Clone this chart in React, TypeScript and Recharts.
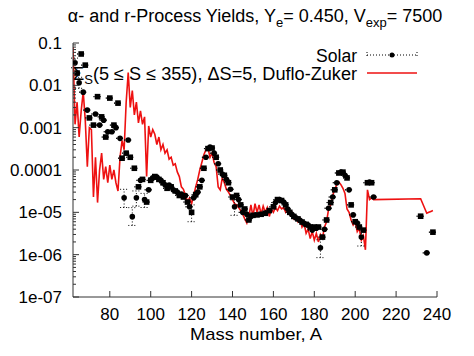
import React from 'react';
import { ComposedChart, Line, Scatter, XAxis, YAxis, ErrorBar } from 'recharts';

const xTicks = [80, 100, 120, 140, 160, 180, 200, 220, 240];
const yMajorTicks = [0.1, 0.01, 0.001, 0.0001, 1e-5, 1e-6, 1e-7];
const yTickLabels = ['0.1', '0.01', '0.001', '0.0001', '1e-05', '1e-06', '1e-07'];
const yMinorTicks: number[] = [];
for (let e = -7; e < -1; e++) for (let k = 2; k <= 9; k++) yMinorTicks.push(k * Math.pow(10, e));
const yAllTicks = [...yMajorTicks, ...yMinorTicks];

// Duflo-Zuker summed yields (red line)
const dzMass = [
  62, 63, 64, 65, 66, 67, 68, 69, 70, 71, 72, 73, 74, 75, 76, 77, 78, 79, 80, 81,
  82, 83, 84, 85, 86, 87, 88, 89, 90, 91, 92, 93, 94, 95, 96, 97, 98, 99, 100, 101,
  102, 103, 104, 105, 106, 107, 108, 109, 110, 111, 112, 113, 114, 115, 116, 117, 118, 119, 120, 121,
  122, 123, 124, 125, 126, 127, 128, 129, 130, 131, 132, 133, 134, 135, 136, 137, 138, 139, 140, 141,
  142, 143, 144, 145, 146, 147, 148, 149, 150, 151, 152, 153, 154, 155, 156, 157, 158, 159, 160, 161,
  162, 163, 164, 165, 166, 167, 168, 169, 170, 171, 172, 173, 174, 175, 176, 177, 178, 179, 180, 181,
  182, 183, 184, 185, 186, 187, 188, 189, 190, 191, 192, 193, 194, 195, 196, 197, 198, 199, 200, 201,
  202, 203, 204, 205, 206, 207, 208, 209, 232, 235, 236, 237, 238,
];
const dzYield = [
  0.08, 0.0012, 0.004, 0.0006, 0.0025, 0.007, 0.0015, 0.00012, 0.001, 0.0009, 2.3e-5, 0.0002, 1.7e-5, 0.0001, 0.00025, 6e-5, 0.00012, 5e-5, 0.00013, 6e-5,
  0.0001, 5e-5, 3.2e-5, 0.0002, 0.0005, 0.0003, 0.004, 0.02, 0.003, 0.0075, 0.002, 0.004, 0.0013, 0.0025, 0.0012, 0.0018, 7e-5, 0.0011, 0.0006, 0.0009,
  0.0007, 0.0004, 0.0006, 0.0003, 0.0004, 0.00025, 0.0003, 0.00018, 0.0002, 0.00013, 0.00014, 9e-5, 7e-5, 4e-5, 3.5e-5, 2.5e-5, 1.8e-5, 2.2e-5, 1.6e-5, 2.5e-5,
  4e-5, 6e-5, 1e-4, 1.5e-4, 2.3e-4, 3e-4, 3.3e-4, 2e-4, 2.5e-4, 1.5e-4, 1.2e-4, 4e-5, 3.4e-5, 6.5e-5, 5e-5, 3.5e-5, 3e-5, 2.5e-5, 2e-5, 1.6e-5,
  1.5e-5, 1.3e-5, 1.1e-5, 9e-6, 7e-6, 5.6e-6, 8e-6, 1.5e-5, 8e-6, 1.6e-5, 1e-5, 1.5e-5, 9e-6, 1.4e-5, 1e-5, 1.3e-5, 8e-6, 1.2e-5, 1e-5, 1.3e-5,
  1.1e-5, 1.4e-5, 1.2e-5, 1.3e-5, 1e-5, 1.2e-5, 9e-6, 1e-5, 7e-6, 8e-6, 6e-6, 7e-6, 4.5e-6, 5.5e-6, 3.2e-6, 4e-6, 2.4e-6, 3.5e-6, 2.2e-6, 3.2e-6,
  2e-6, 3e-6, 2.5e-6, 4.5e-6, 6e-6, 1.2e-5, 1.5e-5, 2.5e-5, 3.5e-5, 4.5e-5, 5.2e-5, 4.5e-5, 3.7e-5, 2.8e-5, 1.2e-5, 1e-5, 6.6e-6, 5e-6, 6e-6, 3.5e-6,
  4.2e-6, 2.2e-6, 2.8e-6, 1.3e-6, 3.4e-5, 2e-5, 2.2e-5, 2e-5, 2.1e-5, 9.5e-6, 1e-5, 1.05e-5, 1.1e-5,
];

// Solar r-process abundances (black points)
const solarMass = [
  63, 64, 65, 66, 67, 68, 69, 70, 72, 73, 74, 75, 76, 77, 78, 79, 80, 81, 82, 83,
  84, 85, 86, 87, 88, 89, 90, 91, 92, 93, 94, 95, 96, 97, 98, 99, 100, 101, 102, 103,
  104, 105, 106, 107, 108, 109, 110, 111, 112, 113, 114, 115, 116, 117, 118, 119, 120, 121, 122, 123,
  124, 125, 126, 127, 128, 129, 130, 131, 132, 133, 134, 135, 136, 137, 138, 139, 140, 141, 142, 143,
  144, 145, 146, 147, 148, 149, 150, 152, 154, 156, 158, 160, 161, 162, 163, 164, 165, 166, 167, 168,
  169, 170, 171, 172, 173, 174, 175, 176, 177, 178, 179, 180, 181, 182, 183, 184, 185, 186, 187, 188,
  189, 190, 191, 192, 193, 194, 195, 196, 197, 198, 199, 200, 201, 202, 203, 204, 206, 207, 208, 209,
  232, 235, 238,
];
const solarYield = [
  0.034, 0.0195, 0.0115, 0.055, 0.0069, 0.03, 0.0026, 0.0017, 0.00115, 0.0021, 0.0054, 0.00115, 0.0018, 0.0015, 0.0006, 0.0008, 0.005, 0.0008, 0.00115, 0.001,
  0.0038, 0.00056, 0.00019, 2.2e-5, 0.00025, 0.00051, 0.0002, 7.9e-6, 0.00011, 2.2e-5, 4e-5, 5.7e-5, 6e-5, 2e-5, 1.75e-5, 3.4e-5, 5.7e-5, 6.5e-5, 7e-5, 6.8e-5,
  6e-5, 5.7e-5, 5e-5, 4.5e-5, 3.7e-5, 4.4e-5, 4e-5, 3.4e-5, 3.2e-5, 3e-5, 2.5e-5, 2.7e-5, 2.3e-5, 2.5e-5, 1.75e-5, 1.35e-5, 1e-5, 2.2e-5, 2.6e-5, 3e-5,
  4e-5, 5.7e-5, 1.1e-4, 2e-4, 3.2e-4, 3.5e-4, 3.3e-4, 2.5e-4, 2e-4, 1.4e-4, 1e-4, 8e-5, 7.5e-5, 6e-5, 5e-5, 3.5e-5, 2.3e-5, 1.35e-5, 2.5e-5, 2e-5,
  1.5e-5, 1e-5, 1.2e-5, 9e-6, 6.6e-6, 8e-6, 8.5e-6, 8.7e-6, 9e-6, 9.5e-6, 1.1e-5, 1.35e-5, 1.7e-5, 2e-5, 2e-5, 1.9e-5, 1.75e-5, 1.5e-5, 1.2e-5, 1e-5,
  9e-6, 8e-6, 7.4e-6, 7e-6, 6.5e-6, 5.9e-6, 5.5e-6, 5.2e-6, 5e-6, 4.5e-6, 3.8e-6, 4.5e-6, 4.2e-6, 4.5e-6, 1.45e-6, 2.6e-6, 4e-6, 6.6e-6, 1.25e-5, 1.7e-5,
  2.3e-5, 3.4e-5, 5e-5, 8.5e-5, 9e-5, 8.9e-5, 7.5e-5, 6.5e-5, 3.4e-5, 1.5e-5, 8.7e-6, 6e-6, 5.6e-6, 4.5e-6, 2.6e-6, 3.8e-6, 5e-5, 5.2e-5, 5e-5, 2.3e-5,
  8.1e-6, 1.1e-6, 3.4e-6,
];

// Error bars (lower, upper) on selected solar points
const errMass = [63, 65, 87, 91, 93, 97, 120, 141, 183, 203];
const errLow = [0.008, 0.003, 9e-6, 3e-6, 8e-6, 7e-6, 4e-6, 5e-6, 6e-7, 1e-6];
const errHigh = [0.01, 0.004, 1.3e-5, 5e-6, 1e-5, 8e-6, 5e-6, 6e-6, 8e-7, 1.5e-6];

const W = 458;
const H = 340;
const FONT = '"Liberation Sans", Arial, Helvetica, sans-serif';
const FS = 17;
const AXIS = '#333';
const RED = '#ee1111';

// Helvetica-metric width of a numeric label (keeps labels the same width whatever face is used)
const labelWidth = (s: string, fs: number) => {
  let w = 0;
  for (const ch of s) w += ch === '.' ? 278 : ch === '-' ? 333 : 556;
  return (w * fs) / 1000;
};

const isMajor = (v: number) => yMajorTicks.some((m) => Math.abs(Math.log10(v) - Math.log10(m)) < 1e-6);
const labelFor = (v: number) => {
  const i = yMajorTicks.findIndex((m) => Math.abs(Math.log10(v) - Math.log10(m)) < 1e-6);
  return i >= 0 ? yTickLabels[i] : '';
};

const LeftTick = (props: any) => {
  const { x, y, payload, m } = props;
  const ax = x + m;
  const major = isMajor(payload.value);
  const lab = labelFor(payload.value);
  return (
    <g>
      <line x1={ax} y1={y} x2={ax + (major ? 6 : 3)} y2={y} stroke={AXIS} strokeWidth={1} />
      {major && (
        <text
          x={x}
          y={y + 6}
          textAnchor="end"
          fontSize={FS}
          fontFamily={FONT}
          fill="#000"
          textLength={labelWidth(lab, FS)}
          lengthAdjust="spacingAndGlyphs"
        >
          {lab}
        </text>
      )}
    </g>
  );
};

const RightTick = (props: any) => {
  const { x, y, payload, m } = props;
  const ax = x - m;
  const major = isMajor(payload.value);
  return <line x1={ax} y1={y} x2={ax - (major ? 6 : 3)} y2={y} stroke={AXIS} strokeWidth={1} />;
};

const BottomTick = (props: any) => {
  const { x, y, payload, m } = props;
  const ay = y - m;
  const lab = String(payload.value);
  return (
    <g>
      <line x1={x} y1={ay} x2={x} y2={ay - 6} stroke={AXIS} strokeWidth={1} />
      <text
        x={x}
        y={ay + 23}
        textAnchor="middle"
        fontSize={FS}
        fontFamily={FONT}
        fill="#000"
        textLength={labelWidth(lab, FS)}
        lengthAdjust="spacingAndGlyphs"
      >
        {lab}
      </text>
    </g>
  );
};

const TopTick = (props: any) => {
  const { x, y, m } = props;
  const ay = y + m;
  return <line x1={x} y1={ay} x2={x} y2={ay + 6} stroke={AXIS} strokeWidth={1} />;
};

const SolarShape = (props: any) => {
  const { cx, cy, payload } = props;
  if (cx == null || cy == null) return null;
  if (payload && payload.A % 2 === 0) {
    return <rect x={cx - 2.8} y={cy - 2.8} width={5.6} height={5.6} fill="#000" />;
  }
  return <circle cx={cx} cy={cy} r={2.8} fill="#000" />;
};

export default function App() {
  const dz = dzMass.map((a, i) => ({ A: a, v: dzYield[i] }));
  const solar = solarMass.map((a, i) => {
    const j = errMass.indexOf(a);
    return { A: a, v: solarYield[i], err: j >= 0 ? [errLow[j], errHigh[j]] : [0, 0] };
  });

  return (
    <div style={{ position: 'relative', width: W, height: H, fontFamily: FONT, color: '#000' }}>
      <ComposedChart width={W} height={H} margin={{ top: 35, right: 29, bottom: 26, left: 5 }}>
        <XAxis
          xAxisId="b"
          dataKey="A"
          type="number"
          domain={[62, 240]}
          ticks={xTicks}
          allowDataOverflow
          tickLine={false}
          tickSize={0}
          tickMargin={4}
          tick={<BottomTick m={4} />}
          height={25}
          axisLine={{ stroke: AXIS }}
          interval={0}
        />
        <XAxis
          xAxisId="t"
          orientation="top"
          dataKey="A"
          type="number"
          domain={[62, 240]}
          ticks={xTicks}
          allowDataOverflow
          tickLine={false}
          tickSize={0}
          tickMargin={4}
          tick={<TopTick m={4} />}
          height={0}
          axisLine={{ stroke: AXIS }}
          interval={0}
        />
        <YAxis
          yAxisId="l"
          dataKey="v"
          type="number"
          scale="log"
          domain={[1e-7, 0.1]}
          ticks={yAllTicks}
          allowDataOverflow
          tickLine={false}
          tickSize={0}
          tickMargin={11}
          tick={<LeftTick m={11} />}
          width={60}
          axisLine={{ stroke: AXIS }}
          interval={0}
        />
        <YAxis
          yAxisId="r"
          orientation="right"
          dataKey="v"
          type="number"
          scale="log"
          domain={[1e-7, 0.1]}
          ticks={yAllTicks}
          allowDataOverflow
          tickLine={false}
          tickSize={0}
          tickMargin={4}
          tick={<RightTick m={4} />}
          width={0}
          axisLine={{ stroke: AXIS }}
          interval={0}
        />
        <Line
          xAxisId="b"
          yAxisId="l"
          data={dz}
          dataKey="v"
          stroke={RED}
          strokeWidth={1.6}
          dot={false}
          isAnimationActive={false}
        />
        <Scatter xAxisId="b" yAxisId="l" data={solar} dataKey="v" shape={<SolarShape />} isAnimationActive={false}>
          <ErrorBar dataKey="err" direction="y" width={4} stroke="#000" strokeWidth={1} strokeDasharray="1 2" isAnimationActive={false} />
        </Scatter>
      </ComposedChart>

      <div
        style={{
          position: 'absolute',
          left: 57,
          top: -2,
          width: 380,
          fontSize: 18,
          lineHeight: '20px',
          whiteSpace: 'nowrap',
          textAlign: 'center',
        }}
      >
        α- and r-Process Yields, Y<span style={{ fontSize: 13, verticalAlign: 'sub', lineHeight: 0 }}>e</span>= 0.450, V
        <span style={{ fontSize: 13, verticalAlign: 'sub', lineHeight: 0 }}>exp</span>= 7500
      </div>

      <svg style={{ position: 'absolute', left: 0, top: 0, pointerEvents: 'none' }} width={W} height={H}>
        <text x={349} y={54} textAnchor="end" fontSize={18} fontFamily={FONT} fill="#000" textLength={41} lengthAdjust="spacingAndGlyphs">
          Solar
        </text>
        <text x={65} y={72} fontSize={18} fontFamily={FONT} fill="#000" textLength={284} lengthAdjust="spacingAndGlyphs">
          Σ<tspan fontSize={13} dy={4}>S</tspan>
          <tspan dy={-4}>(5 ≤ S ≤ 355), ΔS=5, Duflo-Zuker</tspan>
        </text>

        <line x1={359} y1={47} x2={409} y2={47} stroke="#000" strokeWidth={1} strokeDasharray="1 2" />
        <line x1={359} y1={44} x2={359} y2={50} stroke="#000" strokeWidth={1} strokeDasharray="1 2" />
        <line x1={409} y1={44} x2={409} y2={50} stroke="#000" strokeWidth={1} strokeDasharray="1 2" />
        <circle cx={384} cy={47} r={2.5} fill="#000" />
        <line x1={359} y1={65} x2={409} y2={65} stroke={RED} strokeWidth={1.6} />

        <text x={248} y={332} textAnchor="middle" fontSize={17} fontFamily={FONT} fill="#000" textLength={132} lengthAdjust="spacingAndGlyphs">
          Mass number, A
        </text>
      </svg>
    </div>
  );
}
